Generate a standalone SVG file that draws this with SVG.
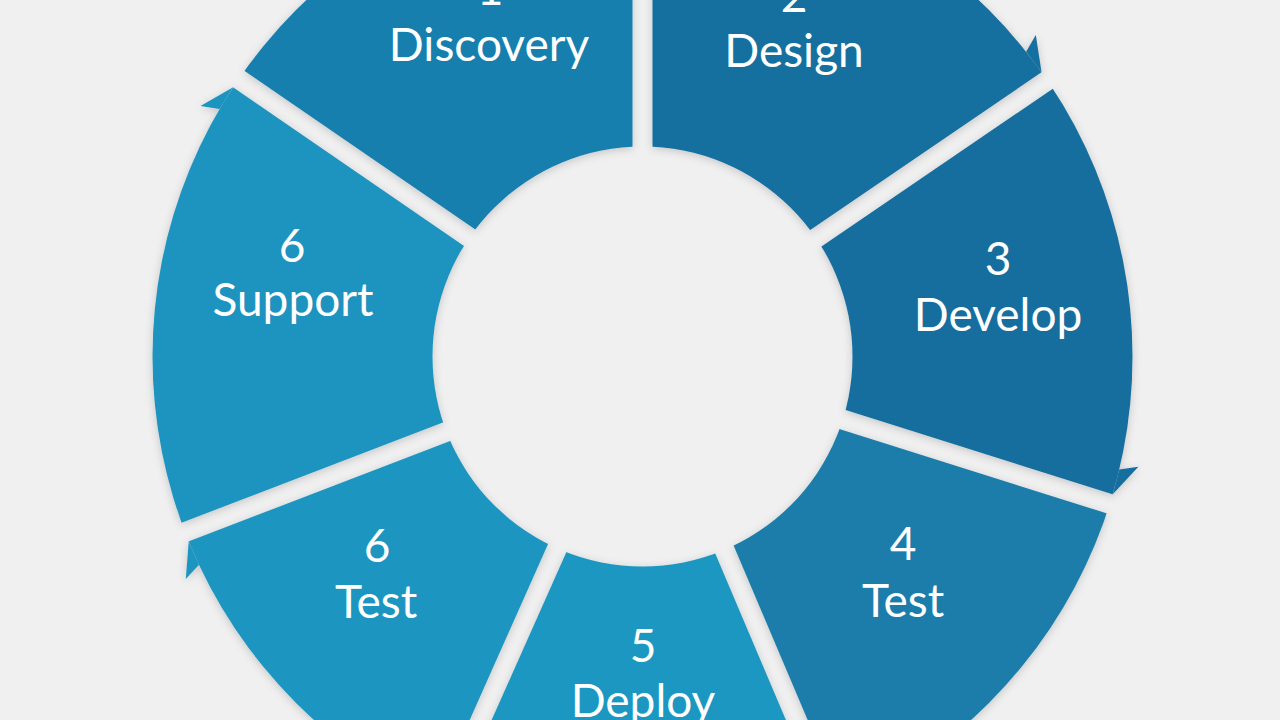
<svg xmlns="http://www.w3.org/2000/svg" width="1280" height="720" viewBox="0 0 1280 720">
  <style>
    .lbl { font-family: Lato, "Open Sans", "Liberation Sans", sans-serif; font-size: 46px; fill: #ffffff; text-anchor: middle; }
    .c1 { fill: #197fae; }
    .c2 { fill: #166f9f; }
    .c3 { fill: #176e9e; }
    .c4 { fill: #1a7dab; }
    .c5 { fill: #1e97c1; }
    .c6 { fill: #1e96c0; }
    .c7 { fill: #1e94bf; }
  </style>
  <defs>
    <mask id="ring" maskUnits="userSpaceOnUse" x="-400" y="-400" width="2100" height="1600">
      <circle cx="642.5" cy="356.5" r="490" fill="#fff"/>
      <circle cx="642.5" cy="356.5" r="210" fill="#000"/>
      <g transform="translate(642.5 356.5)" fill="#000">
        <rect x="0" y="-10" width="700" height="20" transform="rotate(-90)"/>
        <rect x="0" y="-10" width="700" height="20" transform="rotate(-34.3)"/>
        <rect x="0" y="-10" width="700" height="20" transform="rotate(17.5)"/>
        <rect x="0" y="-10" width="700" height="20" transform="rotate(67)"/>
        <rect x="0" y="-10" width="700" height="20" transform="rotate(114)"/>
        <rect x="0" y="-10" width="700" height="20" transform="rotate(159)"/>
        <rect x="0" y="-10" width="700" height="20" transform="rotate(214.5)"/>
      </g>
    </mask>
    <filter id="sh" x="-20%" y="-20%" width="140%" height="140%">
      <feDropShadow dx="0" dy="2" stdDeviation="4" flood-color="#000" flood-opacity="0.18"/>
    </filter>
    <polygon id="barb" points="488.7,-35.6 506.1,-44 489.9,-10"/>
  </defs>

  <rect width="1280" height="720" fill="#f0f0f1"/>

  <g id="connectors"></g>

  <g id="node-1-discovery">
    <g filter="url(#sh)" class="c1">
      <polygon points="642.5,356.5 -181.6,-209.9 642.5,-643.5" mask="url(#ring)"/>
      <use href="#barb" transform="translate(642.5 356.5) rotate(-90)"/>
    </g>
    <text class="lbl" x="490" y="5">1</text>
    <text class="lbl" x="489" y="61">Discovery</text>
  </g>

  <g id="node-2-design">
    <g filter="url(#sh)" class="c2">
      <polygon points="642.5,356.5 642.5,-643.5 1468.6,-207.0" mask="url(#ring)"/>
      <use href="#barb" transform="translate(642.5 356.5) rotate(-34.3)"/>
    </g>
    <text class="lbl" x="794" y="12">2</text>
    <text class="lbl" x="794" y="67">Design</text>
  </g>

  <g id="node-3-develop">
    <g filter="url(#sh)" class="c3">
      <polygon points="642.5,356.5 1468.6,-207.0 1596.2,657.2" mask="url(#ring)"/>
      <use href="#barb" transform="translate(642.5 356.5) rotate(17.5)"/>
    </g>
    <text class="lbl" x="998" y="275">3</text>
    <text class="lbl" x="998" y="331">Develop</text>
  </g>

  <g id="node-4-test">
    <g filter="url(#sh)" class="c4">
      <polygon points="642.5,356.5 1596.2,657.2 1033.2,1277.0" mask="url(#ring)"/>
      <use href="#barb" transform="translate(642.5 356.5) rotate(67)"/>
    </g>
    <text class="lbl" x="903" y="560">4</text>
    <text class="lbl" x="903" y="617">Test</text>
  </g>

  <g id="node-5-deploy">
    <g filter="url(#sh)" class="c5">
      <polygon points="642.5,356.5 1033.2,1277.0 235.8,1270.0" mask="url(#ring)"/>
      <use href="#barb" transform="translate(642.5 356.5) rotate(114)"/>
    </g>
    <text class="lbl" x="643" y="662">5</text>
    <text class="lbl" x="643" y="717">Deploy</text>
  </g>

  <g id="node-6-test">
    <g filter="url(#sh)" class="c6">
      <polygon points="642.5,356.5 235.8,1270.0 -291.1,714.9" mask="url(#ring)"/>
      <use href="#barb" transform="translate(642.5 356.5) rotate(159)"/>
    </g>
    <text class="lbl" x="377" y="562">6</text>
    <text class="lbl" x="376" y="618">Test</text>
  </g>

  <g id="node-6-support">
    <g filter="url(#sh)" class="c7">
      <polygon points="642.5,356.5 -291.1,714.9 -181.6,-209.9" mask="url(#ring)"/>
      <use href="#barb" transform="translate(642.5 356.5) rotate(214.5)"/>
    </g>
    <text class="lbl" x="292" y="262">6</text>
    <text class="lbl" x="293" y="316">Support</text>
  </g>
</svg>
